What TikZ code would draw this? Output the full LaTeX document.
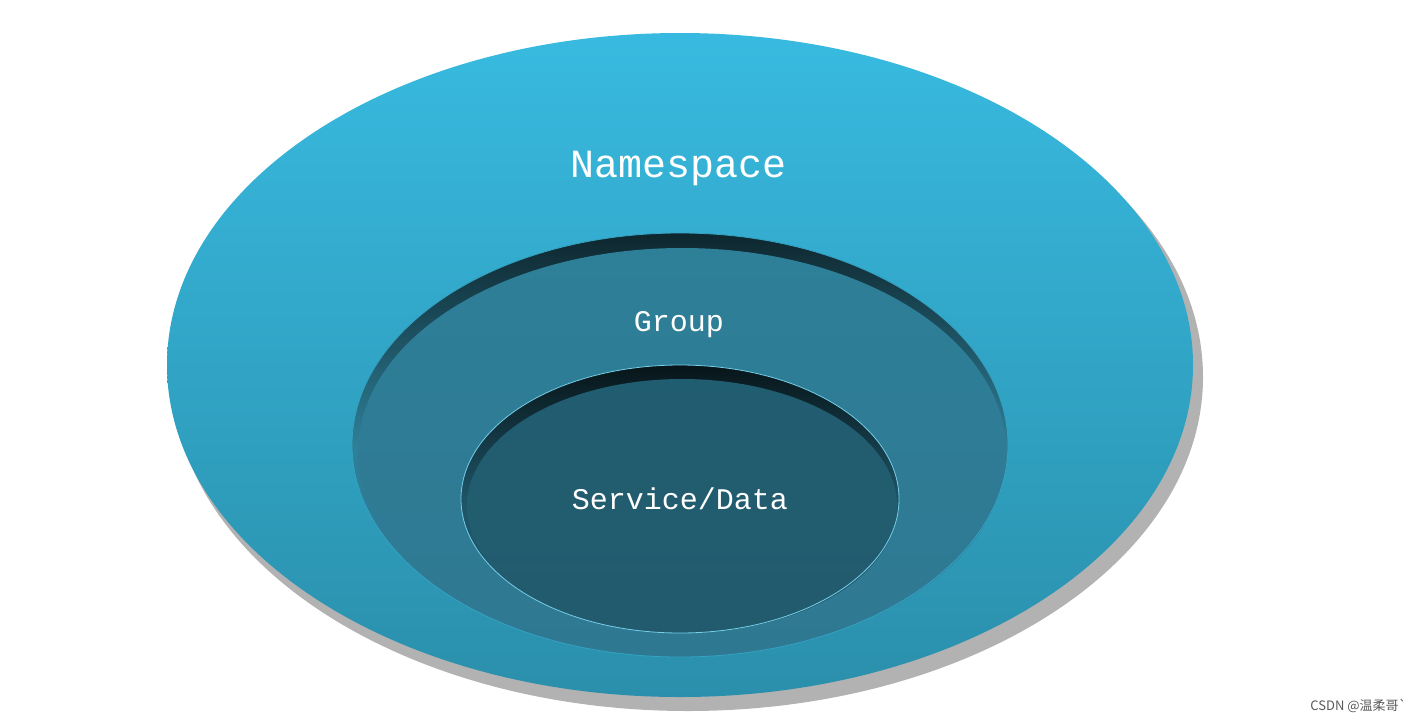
\documentclass[tikz,border=0pt]{standalone}
\usepackage{fontspec}
\newfontfamily\cjk{Noto Sans CJK SC}
\newfontfamily\lab{Liberation Mono}
\usetikzlibrary{shadows}
\definecolor{oT}{HTML}{38BAE0}\definecolor{oB}{HTML}{2A8FAB}
\definecolor{gT}{HTML}{2E7F98}\definecolor{gB}{HTML}{2F7892}
\definecolor{iT}{HTML}{1E5466}\definecolor{iB}{HTML}{235B6E}
\tikzset{lbl/.style={text=white,font=\lab}}
\begin{document}
\begin{tikzpicture}[x=1pt,y=-1pt]
\useasboundingbox (0,0) rectangle (1422,724);
\fill[gray!75,opacity=0.8] (688,377) ellipse [x radius=515,y radius=334];
\shade[top color=oT,bottom color=oB] (680,365) ellipse [x radius=513,y radius=332];
\shade[top color=black!70!gT,bottom color=gB,middle color=gT] (680,445) ellipse [x radius=328,y radius=212];
\shade[top color=gT,bottom color=gB] (682,452) ellipse [x radius=324,y radius=204];
\draw[oT!60!gT,line width=0.8] (680,445) ellipse [x radius=328,y radius=212];
\shade[top color=black!75!iT,bottom color=iB,middle color=iT] (680,499) ellipse [x radius=219,y radius=134];
\shade[top color=iT!80!gT,bottom color=iB] (682,506) ellipse [x radius=215,y radius=127];
\draw[oT!70,line width=0.8] (680,499) ellipse [x radius=219,y radius=134];
\node[lbl,font=\lab\fontsize{40}{40}\selectfont] (ns) at (679,168) {Namespace};
\node[lbl,font=\lab\fontsize{30}{30}\selectfont] (g) at (679,325) {Group};
\node[lbl,font=\lab\fontsize{30}{30}\selectfont] (s) at (680,499) {Service/Data};
\node[text=gray!70!black,font=\cjk\fontsize{13}{13}\selectfont,anchor=east] (w) at (1410,706) {CSDN @温柔哥`};
\end{tikzpicture}
\end{document}
